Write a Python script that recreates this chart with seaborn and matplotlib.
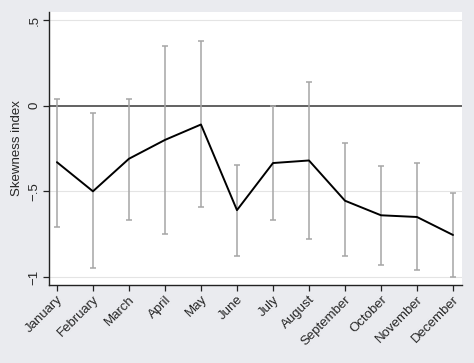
import numpy as np
import pandas as pd
import matplotlib
matplotlib.use("Agg")
import matplotlib.pyplot as plt
import seaborn as sns

# Values
months = ["January", "February", "March", "April", "May", "June",
          "July", "August", "September", "October", "November", "December"]
skew_mean = [-0.33, -0.50, -0.31, -0.20, -0.11, -0.61,
             -0.335, -0.32, -0.555, -0.64, -0.65, -0.755]
ci_upper = [0.04, -0.04, 0.04, 0.35, 0.375, -0.345,
            0.0, 0.14, -0.22, -0.35, -0.335, -0.51]
ci_lower = [-0.71, -0.95, -0.665, -0.75, -0.59, -0.88,
            -0.67, -0.78, -0.88, -0.93, -0.96, -1.0]
y_ticks = [-1, -0.5, 0, 0.5]
y_ticklabels = ["\u22121", "\u2212.5", "0", ".5"]

df = pd.DataFrame({"month": months, "skew": skew_mean,
                   "hi": ci_upper, "lo": ci_lower})
df["pos"] = np.arange(len(df))

sns.set_style("white")
plt.rcParams["font.family"] = ["Liberation Sans", "DejaVu Sans"]

bg = "#eaebef"
fig = plt.figure(figsize=(4.74, 3.63), dpi=100, facecolor=bg)
ax = fig.add_axes([0.1034, 0.2149, 0.8713, 0.7521])
ax.set_facecolor("white")

# grid lines
for t in y_ticks:
    if t != 0:
        ax.axhline(t, color="#e4e4e4", lw=0.8, zorder=0)
ax.axhline(0, color="#555555", lw=1.3, zorder=1)

# confidence bars
ax.errorbar(df["pos"], df["skew"],
            yerr=[df["skew"] - df["lo"], df["hi"] - df["skew"]],
            fmt="none", ecolor="#a6a6a6", elinewidth=1.1, capsize=2.5,
            capthick=1.1, zorder=2)

sns.lineplot(data=df, x="pos", y="skew", color="black", lw=1.4,
             ax=ax, zorder=3)

ax.set_xlim(-0.22, 11.25)
ax.set_ylim(-1.047, 0.547)
ax.set_xticks(df["pos"])
ax.set_xticklabels(months, rotation=45, ha="right", rotation_mode="anchor",
                   fontsize=9.5)
ax.set_yticks(y_ticks)
ax.set_yticklabels(y_ticklabels, rotation=90, va="center", fontsize=9.5)
ax.set_xlabel("")
ax.set_ylabel("Skewness index", fontsize=9.5, labelpad=4)

for side in ["top", "right"]:
    ax.spines[side].set_visible(False)
for side in ["left", "bottom"]:
    ax.spines[side].set_color("#222222")
    ax.spines[side].set_linewidth(1.0)
ax.tick_params(axis="both", which="major", length=4, width=0.9,
               color="#222222", direction="out", pad=2)
ax.tick_params(left=True, bottom=True)

fig.savefig("out.png", dpi=100, facecolor=bg)
